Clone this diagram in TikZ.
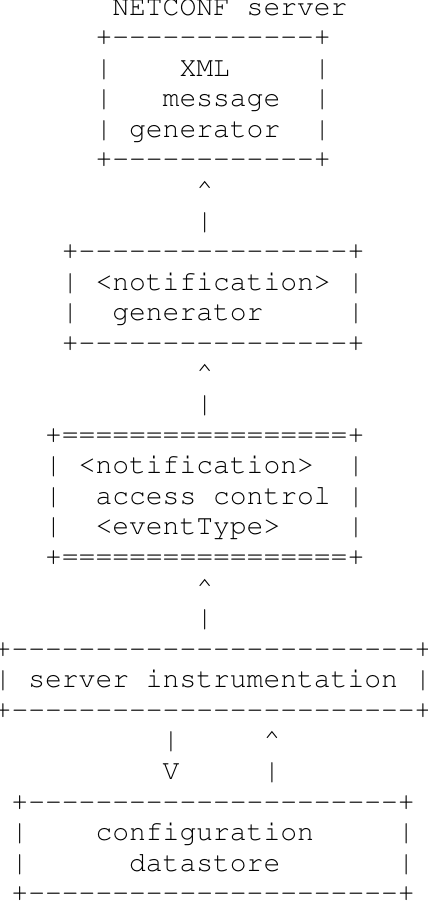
\documentclass[tikz,border=0pt]{standalone}
\usepackage[T1]{fontenc}
\usepackage{courier}
\usepackage{tikz}

\newcommand{\dashrun}[1]{\foreach \i in {1,...,#1}{-\kern0pt}}

\begin{document}
\begin{tikzpicture}[
			asciirow/.style={anchor=base west, inner sep=0pt, outer sep=0pt, font=\ttfamily\fontsize{28pt}{30pt}\selectfont},
		]

			\useasboundingbox (0,0) rectangle (428pt,-902pt);

			%Rows (row/column/text)
			\foreach \row/\col/\txt in {
				0/7/{NETCONF~server},
				1/6/{+\dashrun{12}+},
				2/6/{|~~~~XML~~~~~|},
				3/6/{|~~~message~~|},
				4/6/{|~generator~~|},
				5/6/{+\dashrun{12}+},
				6/12/{\textasciicircum},
				7/12/{|},
				8/4/{+\dashrun{16}+},
				9/4/{|~<notification>~|},
				10/4/{|~~generator~~~~~|},
				11/4/{+\dashrun{16}+},
				12/12/{\textasciicircum},
				13/12/{|},
				14/3/{+=================+},
				15/3/{|~<notification>~~|},
				16/3/{|~~access~control~|},
				17/3/{|~~<eventType>~~~~|},
				18/3/{+=================+},
				19/12/{\textasciicircum},
				20/12/{|},
				21/0/{+\dashrun{24}+},
				22/0/{|~server~instrumentation~|},
				23/0/{+\dashrun{24}+},
				24/10/{|~~~~~\textasciicircum},
				25/10/{V~~~~~|},
				26/1/{+\dashrun{22}+},
				27/1/{|~~~~configuration~~~~~|},
				28/1/{|~~~~~~datastore~~~~~~~|},
				29/1/{+\dashrun{22}+}}
				\node[asciirow] (r\row) at ({-5.3pt+\col*16.8pt}, {-15pt-\row*30.58pt}) {\txt};

		\end{tikzpicture}
\end{document}
